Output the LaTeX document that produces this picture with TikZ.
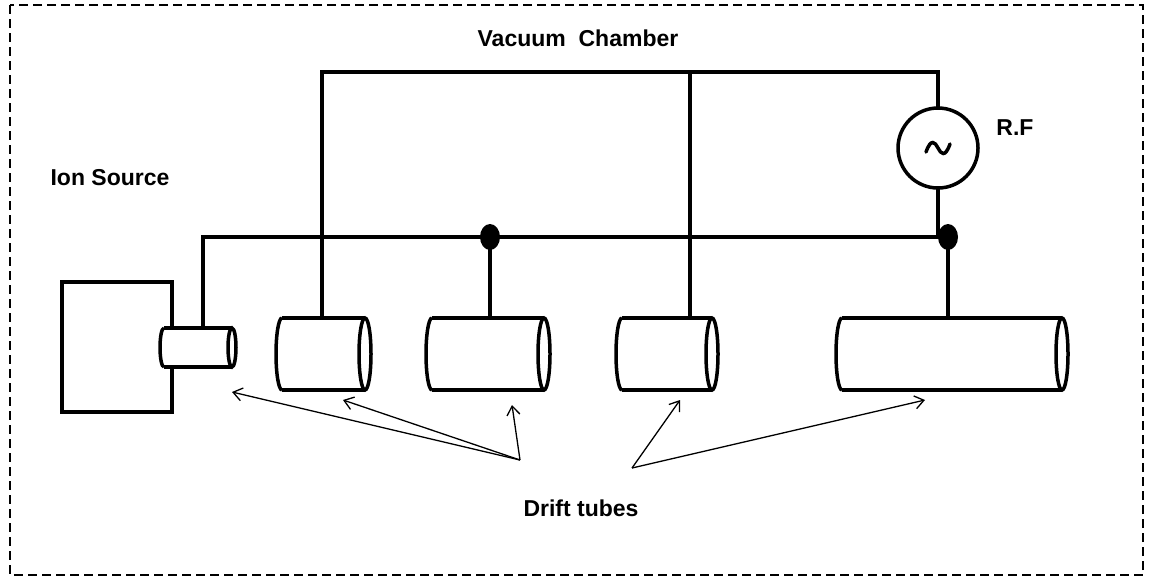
\documentclass[tikz,border=0pt]{standalone}
\usepackage{fontspec}
\setmainfont{Liberation Sans}
\usetikzlibrary{arrows.meta}
\begin{document}
\begin{tikzpicture}[x=1pt,y=-1pt,
  w/.style={line width=3.5pt},
  lab/.style={font=\bfseries\fontsize{23}{25}\selectfont},
  arr/.style={line width=1.3pt,-{Straight Barb[length=9pt,width=13pt]}}]
\useasboundingbox (0,0) rectangle (1150,579);
\draw[line width=2.2pt,dash pattern=on 9pt off 5pt] (10,5) rectangle (1143,575);
% wires
\coordinate (b0) at (203,237);
\coordinate (b1) at (948,237);
\draw[w] (203,328) -- (b0) -- (b1);
\draw[w] (322,318) -- (322,72) -- (938,72) -- (938,108);
\draw[w] (690,72) -- (690,318);
\draw[w] (490,237) -- (490,318);
\draw[w] (948,237) -- (948,318);
\draw[w] (938,188) -- (938,237);
\fill (490,237) ellipse (10 and 13);
\fill (948,237) ellipse (10 and 13);
\node[draw,line width=3.5pt,circle,minimum size=80pt,inner sep=0pt] (rf) at (938,148) {};
\draw[line width=3.5pt,line cap=round] (926,152) .. controls (931,138) and (935,142) .. (938,148) .. controls (941,154) and (945,158) .. (950,144);
% source
\draw[w] (62,282) rectangle (172,412);
\newcommand\tb[5]{% x1 x2 ytop ybot rx
  \fill[white] (#1,#3) -- (#2,#3) -- (#2,#4) -- (#1,#4) -- cycle;
  \draw[w] (#1+#5,#3) -- (#2,#3) (#1+#5,#4) -- (#2,#4);
  \draw[w] (#1+#5,#3) arc (270:90:{#5} and {(#4-#3)/2});
  \draw[w] (#2,{(#3+#4)/2}) ellipse ({#5} and {(#4-#3)/2});}
\tb{160}{232}{328}{367}{4}
\tb{276}{365}{318}{390}{6}
\tb{426}{544}{318}{390}{6}
\tb{616}{712}{318}{390}{6}
\tb{836}{1062}{318}{390}{6}
% labels
\node[lab] (vc) at (578,38) {Vacuum\ \ Chamber};
\node[lab] (rfl) at (1015,128) {R.F};
\node[lab] (is) at (110,178) {Ion Source};
\node[lab] (dt) at (581,508) {Drift tubes};
\coordinate (a1) at (520,460);
\coordinate (a2) at (632,468);
\draw[arr] (a1) -- (232,392);
\draw[arr] (a1) -- (343,400);
\draw[arr] (a1) -- (512,405);
\draw[arr] (a2) -- (680,400);
\draw[arr] (a2) -- (925,400);
\end{tikzpicture}
\end{document}
